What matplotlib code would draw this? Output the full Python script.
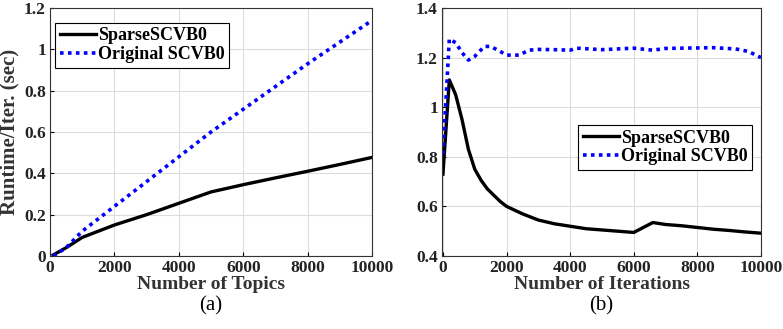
import matplotlib
matplotlib.use("Agg")
import matplotlib.pyplot as plt

# Panel (a): runtime vs number of topics
topics = [100, 500, 1000, 2000, 3000, 4000, 5000, 6000, 7000, 8000, 9000, 10000]
sparse_a = [0.005, 0.04, 0.09, 0.15, 0.20, 0.255, 0.31, 0.345, 0.378, 0.41, 0.443, 0.477]
orig_a = [0.0, 0.04, 0.12, 0.24, 0.36, 0.48, 0.60, 0.71, 0.82, 0.93, 1.035, 1.14]

# Panel (b): runtime vs number of iterations
iters_s = [0, 200, 400, 600, 800, 1000, 1200, 1400, 1600, 1800, 2000, 2500, 3000,
           3500, 4000, 4500, 5000, 5500, 6000, 6600, 7000, 7500, 8000, 8500, 9000,
           9500, 10000]
sparse_b = [0.73, 1.11, 1.05, 0.95, 0.83, 0.75, 0.705, 0.67, 0.645, 0.62, 0.60, 0.57,
            0.545, 0.53, 0.52, 0.51, 0.505, 0.50, 0.495, 0.535, 0.527, 0.522, 0.515,
            0.508, 0.503, 0.497, 0.492]
iters_o = [0, 200, 400, 600, 800, 1000, 1300, 1500, 1800, 2000, 2400, 2700, 3000,
           3500, 4000, 4200, 5000, 5500, 6000, 6600, 7000, 7500, 8500, 9200, 9600, 10000]
orig_b = [0.81, 1.275, 1.26, 1.22, 1.19, 1.205, 1.245, 1.245, 1.225, 1.21, 1.21, 1.23,
          1.233, 1.232, 1.23, 1.238, 1.232, 1.235, 1.238, 1.23, 1.237, 1.238, 1.24,
          1.235, 1.225, 1.20]

plt.rcParams['font.family'] = ['Liberation Serif', 'DejaVu Serif']

fig = plt.figure(figsize=(7.83, 3.29), dpi=100)
ax1 = fig.add_axes([50/783, 1-256/329, 322/783, 248/329])
ax2 = fig.add_axes([442/783, 1-256/329, 319/783, 248/329])

blue = '#0000ff'

def style(ax):
    ax.grid(True, color='#dcdcdc', linewidth=0.8)
    ax.set_axisbelow(True)
    ax.tick_params(direction='in', length=3, labelsize=12.5, width=0.8, pad=3,
                   labelcolor='#222222')
    for lab in ax.get_xticklabels() + ax.get_yticklabels():
        lab.set_fontweight('bold')
    for s in ax.spines.values():
        s.set_color('#333333')
        s.set_linewidth(0.8)

ax1.plot(topics, sparse_a, color='black', lw=2.4, label='SparseSCVB0')
ax1.plot(topics, orig_a, color=blue, lw=2.6, ls=(0, (1, 1.2)), label='Original SCVB0')
ax1.set_xlim(0, 10000)
ax1.set_ylim(0, 1.2)
ax1.set_xticks([0, 2000, 4000, 6000, 8000, 10000])
ax1.set_yticks([0, 0.2, 0.4, 0.6, 0.8, 1.0, 1.2])
ax1.set_yticklabels(['0', '0.2', '0.4', '0.6', '0.8', '1', '1.2'])
style(ax1)
ax1.set_xlabel('Number of Topics', fontsize=14, fontweight='bold', color='#333333', labelpad=0)
ax1.set_ylabel('Runtime/Iter. (sec)', fontsize=15, fontweight='bold', color='#333333')
ax1.yaxis.set_label_coords(-0.095, 0.5)
ax1.text(0.5, -0.2, '(a)', transform=ax1.transAxes, ha='center', va='center', fontsize=15)
leg1 = ax1.legend(loc='upper left', bbox_to_anchor=(0.016, 0.94),
                  prop={'weight': 'bold', 'size': 13}, handlelength=2.0, handletextpad=0.1,
                  borderpad=0.25, labelspacing=0.1, fancybox=False, framealpha=1,
                  edgecolor='black', borderaxespad=0)
leg1.get_frame().set_linewidth(0.8)

ax2.plot(iters_s, sparse_b, color='black', lw=2.4, label='SparseSCVB0')
ax2.plot(iters_o, orig_b, color=blue, lw=2.6, ls=(0, (1, 1.2)), label='Original SCVB0')
ax2.set_xlim(-30, 10000)
ax2.set_ylim(0.4, 1.4)
ax2.set_xticks([0, 2000, 4000, 6000, 8000, 10000])
ax2.set_yticks([0.4, 0.6, 0.8, 1.0, 1.2, 1.4])
ax2.set_yticklabels(['0.4', '0.6', '0.8', '1', '1.2', '1.4'])
style(ax2)
ax2.set_xlabel('Number of Iterations', fontsize=14, fontweight='bold', color='#333333', labelpad=0)
ax2.text(0.5, -0.2, '(b)', transform=ax2.transAxes, ha='center', va='center', fontsize=15)
leg2 = ax2.legend(loc='upper right', bbox_to_anchor=(0.972, 0.528),
                  prop={'weight': 'bold', 'size': 13}, handlelength=2.0, handletextpad=0.1,
                  borderpad=0.25, labelspacing=0.1, fancybox=False, framealpha=1,
                  edgecolor='black', borderaxespad=0)
leg2.get_frame().set_linewidth(0.8)

fig.savefig('out.png', dpi=100)
